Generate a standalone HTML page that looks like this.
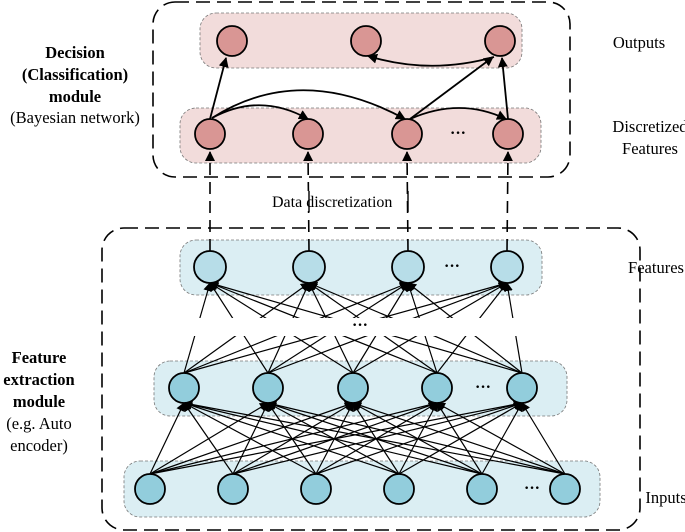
<!DOCTYPE html>
<html><head><meta charset="utf-8"><style>
html,body{margin:0;padding:0;background:#fff;}
svg{display:block;}
text{font-family:"Liberation Serif",serif;fill:#000;}
</style></head><body>
<svg width="685" height="532" viewBox="0 0 685 532" xmlns="http://www.w3.org/2000/svg">
<defs>
<marker id="a" markerWidth="9" markerHeight="9" refX="8" refY="4.5" orient="auto" markerUnits="userSpaceOnUse"><path d="M0,0 L9,4.5 L0,9 z" fill="#000"/></marker>
<marker id="b" markerWidth="10" markerHeight="10" refX="9" refY="5" orient="auto" markerUnits="userSpaceOnUse"><path d="M0,0 L10,5 L0,10 z" fill="#000"/></marker>
</defs>
<rect x="153" y="2" width="417" height="175" rx="22" fill="none" stroke="#000" stroke-width="1.6" stroke-dasharray="14,7"/>
<rect x="102" y="228" width="538" height="302" rx="22" fill="none" stroke="#000" stroke-width="1.6" stroke-dasharray="14,7"/>
<rect x="200" y="13" width="322" height="55" rx="16" fill="#f2dcdb" stroke="#777" stroke-dasharray="3,2" stroke-width="0.8"/>
<rect x="180" y="108" width="361" height="55" rx="16" fill="#f2dcdb" stroke="#777" stroke-dasharray="3,2" stroke-width="0.8"/>
<rect x="180" y="240" width="362" height="55" rx="16" fill="#dbeef3" stroke="#777" stroke-dasharray="3,2" stroke-width="0.8"/>
<rect x="154" y="361" width="413" height="55" rx="16" fill="#dbeef3" stroke="#777" stroke-dasharray="3,2" stroke-width="0.8"/>
<rect x="124" y="461" width="476" height="56" rx="16" fill="#dbeef3" stroke="#777" stroke-dasharray="3,2" stroke-width="0.8"/>
<g stroke="#000" stroke-width="1.6" stroke-dasharray="12,7" fill="none">
<line x1="210" y1="251" x2="210" y2="152" marker-end="url(#b)"/>
<line x1="309" y1="251" x2="308" y2="152" marker-end="url(#b)"/>
<line x1="408" y1="251" x2="407" y2="152" marker-end="url(#b)"/>
<line x1="507" y1="251" x2="508" y2="152" marker-end="url(#b)"/>
</g>
<rect x="270" y="191" width="136" height="20" fill="#fff"/>
<text x="272" y="207" font-size="16">Data discretization</text>
<line x1="309" y1="191" x2="309" y2="212" stroke="#000" stroke-width="1.4"/>
<line x1="408" y1="191" x2="408" y2="212" stroke="#000" stroke-width="1.4"/>
<g stroke="#000" stroke-width="1.8" fill="none">
<line x1="210" y1="119" x2="226" y2="58" marker-end="url(#b)"/>
<line x1="508" y1="119" x2="502" y2="58" marker-end="url(#b)"/>
<line x1="410" y1="119" x2="493" y2="57" marker-end="url(#b)"/>
<path d="M212,118 Q260,92 308,119" marker-end="url(#b)"/>
<path d="M212,118 Q300,62 405,119" marker-end="url(#b)"/>
<path d="M410,119 Q460,97 506,119" marker-end="url(#b)"/>
<path d="M494,57 Q430,75 368,56" marker-end="url(#b)"/>
</g>
<g stroke="#000" stroke-width="1.2" marker-end="url(#a)">
<line x1="184" y1="373" x2="210" y2="283"/><line x1="184" y1="373" x2="309" y2="283"/><line x1="184" y1="373" x2="408" y2="283"/><line x1="184" y1="373" x2="507" y2="283"/>
<line x1="268" y1="373" x2="210" y2="283"/><line x1="268" y1="373" x2="309" y2="283"/><line x1="268" y1="373" x2="408" y2="283"/><line x1="268" y1="373" x2="507" y2="283"/>
<line x1="353" y1="373" x2="210" y2="283"/><line x1="353" y1="373" x2="309" y2="283"/><line x1="353" y1="373" x2="408" y2="283"/><line x1="353" y1="373" x2="507" y2="283"/>
<line x1="437" y1="373" x2="210" y2="283"/><line x1="437" y1="373" x2="309" y2="283"/><line x1="437" y1="373" x2="408" y2="283"/><line x1="437" y1="373" x2="507" y2="283"/>
<line x1="522" y1="373" x2="210" y2="283"/><line x1="522" y1="373" x2="309" y2="283"/><line x1="522" y1="373" x2="408" y2="283"/><line x1="522" y1="373" x2="507" y2="283"/>
</g>
<rect x="190" y="318" width="340" height="18" fill="#fff"/>
<text x="360" y="330" font-size="16" text-anchor="middle" font-weight="bold">···</text>
<g stroke="#000" stroke-width="1.2" marker-end="url(#a)">
<line x1="150" y1="474" x2="184" y2="403"/><line x1="150" y1="474" x2="268" y2="403"/><line x1="150" y1="474" x2="353" y2="403"/><line x1="150" y1="474" x2="437" y2="403"/><line x1="150" y1="474" x2="522" y2="403"/>
<line x1="233" y1="474" x2="184" y2="403"/><line x1="233" y1="474" x2="268" y2="403"/><line x1="233" y1="474" x2="353" y2="403"/><line x1="233" y1="474" x2="437" y2="403"/><line x1="233" y1="474" x2="522" y2="403"/>
<line x1="316" y1="474" x2="184" y2="403"/><line x1="316" y1="474" x2="268" y2="403"/><line x1="316" y1="474" x2="353" y2="403"/><line x1="316" y1="474" x2="437" y2="403"/><line x1="316" y1="474" x2="522" y2="403"/>
<line x1="399" y1="474" x2="184" y2="403"/><line x1="399" y1="474" x2="268" y2="403"/><line x1="399" y1="474" x2="353" y2="403"/><line x1="399" y1="474" x2="437" y2="403"/><line x1="399" y1="474" x2="522" y2="403"/>
<line x1="482" y1="474" x2="184" y2="403"/><line x1="482" y1="474" x2="268" y2="403"/><line x1="482" y1="474" x2="353" y2="403"/><line x1="482" y1="474" x2="437" y2="403"/><line x1="482" y1="474" x2="522" y2="403"/>
<line x1="565" y1="474" x2="184" y2="403"/><line x1="565" y1="474" x2="268" y2="403"/><line x1="565" y1="474" x2="353" y2="403"/><line x1="565" y1="474" x2="437" y2="403"/><line x1="565" y1="474" x2="522" y2="403"/>
</g>
<g stroke="#000" stroke-width="1.8" fill="#d99694">
<circle cx="232" cy="41" r="15"/><circle cx="366" cy="41" r="15"/><circle cx="500" cy="41" r="15"/>
<circle cx="210" cy="134" r="15"/><circle cx="308" cy="134" r="15"/><circle cx="407" cy="134" r="15"/><circle cx="508" cy="134" r="15"/>
</g>
<g stroke="#000" stroke-width="1.8" fill="#b7dde8">
<circle cx="210" cy="267" r="16"/><circle cx="309" cy="267" r="16"/><circle cx="408" cy="267" r="16"/><circle cx="507" cy="267" r="16"/>
</g>
<g stroke="#000" stroke-width="1.8" fill="#92cddc">
<circle cx="184" cy="388" r="15"/><circle cx="268" cy="388" r="15"/><circle cx="353" cy="388" r="15"/><circle cx="437" cy="388" r="15"/><circle cx="522" cy="388" r="15"/>
<circle cx="150" cy="489" r="15"/><circle cx="233" cy="489" r="15"/><circle cx="316" cy="489" r="15"/><circle cx="399" cy="489" r="15"/><circle cx="482" cy="489" r="15"/><circle cx="565" cy="489" r="15"/>
</g>
<g font-size="16" font-weight="bold" text-anchor="middle">
<text x="458" y="138">···</text><text x="452" y="271">···</text><text x="483" y="392">···</text><text x="532" y="493">···</text>
</g>
<g font-size="16.5" text-anchor="middle">
<text x="75" y="58" font-weight="bold">Decision</text>
<text x="75" y="80" font-weight="bold">(Classification)</text>
<text x="75" y="102" font-weight="bold">module</text>
<text x="75" y="123">(Bayesian network)</text>
<text x="39" y="363" font-weight="bold">Feature</text>
<text x="39" y="385" font-weight="bold">extraction</text>
<text x="39" y="407" font-weight="bold">module</text>
<text x="39" y="429">(e.g. Auto</text>
<text x="39" y="451">encoder)</text>
<text x="639" y="48">Outputs</text>
<text x="650" y="132">Discretized</text>
<text x="650" y="154">Features</text>
<text x="656" y="273">Features</text>
<text x="666" y="503">Inputs</text>
</g>
</svg>
</body></html>
